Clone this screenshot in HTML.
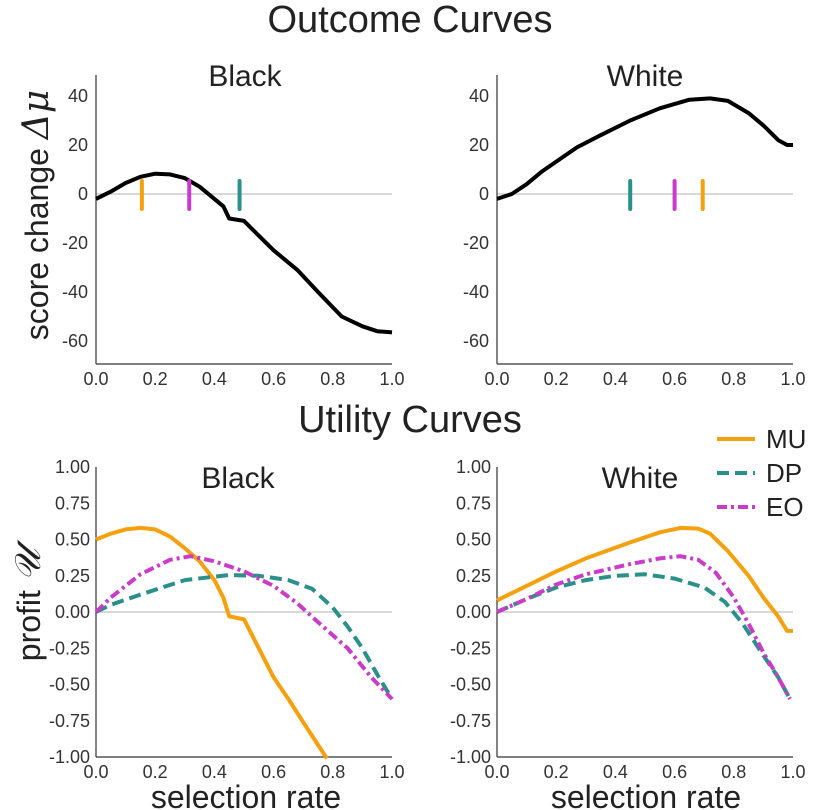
<!DOCTYPE html><html><head><meta charset="utf-8"><style>body{margin:0;background:#fff}svg{display:block}</style></head><body>
<svg id="s" width="819" height="810" xmlns="http://www.w3.org/2000/svg" font-family="Liberation Sans Narrow, Liberation Sans, sans-serif">
<text x="410" y="32" font-size="38" text-anchor="middle" fill="#222">Outcome Curves</text>
<text x="410" y="432" font-size="38" text-anchor="middle" fill="#222">Utility Curves</text>
<text x="245" y="86" font-size="30" text-anchor="middle" fill="#222">Black</text>
<text x="645" y="86" font-size="30" text-anchor="middle" fill="#222">White</text>
<text x="238" y="488" font-size="30" text-anchor="middle" fill="#222">Black</text>
<text x="640" y="488" font-size="30" text-anchor="middle" fill="#222">White</text>
<text transform="translate(48,215) rotate(-90)" font-size="32" text-anchor="middle" fill="#222">score change <tspan font-family="DejaVu Serif, serif" font-style="italic" font-size="36">Δμ</tspan></text>
<text transform="translate(40,605) rotate(-90)" font-size="32" text-anchor="middle" fill="#222">profit <tspan font-family="DejaVu Serif, serif" font-style="italic" font-size="36">𝒰</tspan></text>
<text x="246" y="808" font-size="32" text-anchor="middle" fill="#222">selection rate</text>
<text x="646" y="808" font-size="32" text-anchor="middle" fill="#222">selection rate</text>
<g font-size="26" fill="#222">
<line x1="717" y1="439" x2="755" y2="439" stroke="#f5a00f" stroke-width="4"/><text x="766" y="448">MU</text>
<line x1="717" y1="473" x2="755" y2="473" stroke="#2a9089" stroke-width="4" stroke-dasharray="12,6"/><text x="766" y="482">DP</text>
<line x1="717" y1="507" x2="755" y2="507" stroke="#c83cc8" stroke-width="4" stroke-dasharray="10,4,3,4"/><text x="766" y="516">EO</text>
</g>
<g id="g"></g>
</svg>
<script>
var g=document.getElementById('g'),h='';
function X(ox,v){return ox+v*296}
function Yo(v){return 194-v*2.45}
function Yu(v){return 612-v*145}
function pl(ox,Y,pts,col,w,dash){var s=pts.map(p=>X(ox,p[0]).toFixed(1)+','+Y(p[1]).toFixed(1)).join(' ');h+='<polyline points="'+s+'" fill="none" stroke="'+col+'" stroke-width="'+w+'" stroke-linejoin="round" '+(dash?'stroke-dasharray="'+dash+'"':'')+'/>';}
[96,497].forEach(function(ox){
 h+='<line x1="'+ox+'" y1="194" x2="'+(ox+296)+'" y2="194" stroke="#ccc" stroke-width="1.5"/>';
 h+='<line x1="'+ox+'" y1="75" x2="'+ox+'" y2="364" stroke="#333" stroke-width="1.2"/><line x1="'+ox+'" y1="364" x2="'+(ox+296)+'" y2="364" stroke="#333" stroke-width="1.2"/>';
 [40,20,0,-20,-40,-60].forEach(v=>{h+='<text x="'+(ox-8)+'" y="'+(Yo(v)+6)+'" font-size="18" text-anchor="end" fill="#333">'+v+'</text>'});
 h+='<line x1="'+ox+'" y1="612" x2="'+(ox+296)+'" y2="612" stroke="#ccc" stroke-width="1.5"/>';
 h+='<line x1="'+ox+'" y1="467" x2="'+ox+'" y2="757" stroke="#333" stroke-width="1.2"/><line x1="'+ox+'" y1="757" x2="'+(ox+296)+'" y2="757" stroke="#333" stroke-width="1.2"/>';
 [1,0.75,0.5,0.25,0,-0.25,-0.5,-0.75,-1].forEach(v=>{h+='<text x="'+(ox-6)+'" y="'+(Yu(v)+6)+'" font-size="18" text-anchor="end" fill="#333">'+v.toFixed(2)+'</text>'});
 [0,0.2,0.4,0.6,0.8,1].forEach(v=>{h+='<text x="'+X(ox,v)+'" y="385" font-size="18" text-anchor="middle" fill="#333">'+v.toFixed(1)+'</text>';h+='<text x="'+X(ox,v)+'" y="778" font-size="18" text-anchor="middle" fill="#333">'+v.toFixed(1)+'</text>'});
});
var O='#f5a00f',T='#2a9089',M='#c83cc8';
pl(96,Yo,[[0,-2],[0.05,1],[0.1,4.5],[0.15,7],[0.2,8.3],[0.25,8],[0.3,6.5],[0.35,3],[0.4,-2],[0.43,-5],[0.45,-10],[0.5,-11],[0.55,-17],[0.6,-23],[0.68,-31],[0.75,-40],[0.83,-50],[0.9,-54],[0.95,-56],[1,-56.5]],'#000',4);
pl(497,Yo,[[0,-2],[0.05,0],[0.1,4],[0.15,9],[0.27,19],[0.35,24],[0.45,30],[0.55,35],[0.65,38.5],[0.72,39],[0.78,38],[0.85,33],[0.9,28],[0.95,22],[0.98,20],[1,20]],'#000',4);
function mk(ox,v,c){h+='<line x1="'+X(ox,v)+'" y1="181" x2="'+X(ox,v)+'" y2="209" stroke="'+c+'" stroke-width="4" stroke-linecap="round"/>'}
mk(96,0.155,O);mk(96,0.315,M);mk(96,0.485,T);mk(497,0.45,T);mk(497,0.6,M);mk(497,0.695,O);
pl(96,Yu,[[0,0.5],[0.05,0.54],[0.1,0.57],[0.15,0.58],[0.2,0.57],[0.25,0.52],[0.3,0.44],[0.35,0.35],[0.4,0.22],[0.43,0.1],[0.45,-0.03],[0.5,-0.05],[0.55,-0.25],[0.6,-0.45],[0.65,-0.6],[0.7,-0.76],[0.78,-1.01]],O,4);
pl(96,Yu,[[0,0],[0.05,0.05],[0.15,0.12],[0.3,0.22],[0.45,0.255],[0.55,0.25],[0.65,0.22],[0.73,0.16],[0.8,0.03],[0.85,-0.1],[0.9,-0.25],[0.95,-0.43],[1,-0.6]],T,4,'12,6');
pl(96,Yu,[[0,0],[0.05,0.1],[0.15,0.26],[0.25,0.36],[0.32,0.385],[0.4,0.35],[0.5,0.28],[0.6,0.18],[0.68,0.06],[0.75,-0.07],[0.85,-0.25],[0.93,-0.45],[1,-0.6]],M,4,'10,4,3,4');
pl(497,Yu,[[0,0.08],[0.1,0.18],[0.2,0.28],[0.3,0.37],[0.45,0.48],[0.55,0.55],[0.62,0.58],[0.68,0.575],[0.72,0.54],[0.78,0.42],[0.85,0.25],[0.9,0.1],[0.95,-0.03],[0.98,-0.13],[1,-0.13]],O,4);
pl(497,Yu,[[0,0],[0.1,0.09],[0.2,0.17],[0.3,0.22],[0.4,0.25],[0.5,0.26],[0.6,0.23],[0.7,0.17],[0.77,0.07],[0.83,-0.08],[0.9,-0.3],[0.95,-0.45],[0.99,-0.6]],T,4,'12,6');
pl(497,Yu,[[0,0],[0.1,0.09],[0.2,0.19],[0.3,0.26],[0.45,0.33],[0.55,0.37],[0.62,0.385],[0.68,0.36],[0.74,0.27],[0.8,0.1],[0.85,-0.08],[0.9,-0.28],[0.95,-0.45],[0.99,-0.6]],M,4,'10,4,3,4');
g.innerHTML=h;
</script>
</body></html>
